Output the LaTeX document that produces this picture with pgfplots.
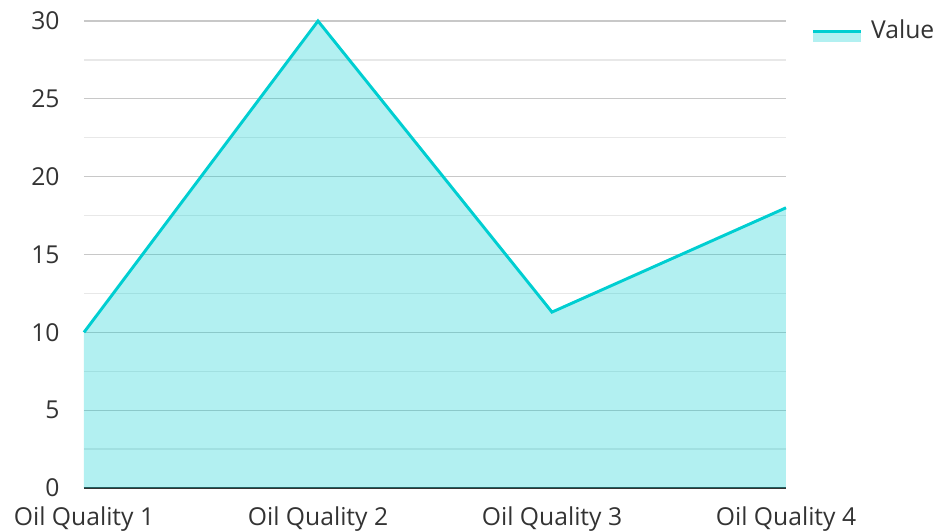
\documentclass[border=0pt]{standalone}
\usepackage{pgfplots}
\pgfplotsset{compat=1.18}
\usepackage{fontspec}
\setmainfont{Open Sans}
\definecolor{lineC}{RGB}{0,206,209}
\definecolor{majgrid}{RGB}{200,200,200}
\definecolor{mingrid}{RGB}{232,232,232}
\definecolor{txt}{RGB}{51,51,51}
\begin{document}
\begin{tikzpicture}
\fontsize{18.5}{22}\selectfont
\begin{axis}[
  at={(0,0)}, anchor=south west,
  scale only axis,
  width=526.5pt, height=350.25pt,
  xmin=0, xmax=3, ymin=0, ymax=30,
  xtick={0,1,2,3},
  xticklabels={Oil Quality 1,Oil Quality 2,Oil Quality 3,Oil Quality 4},
  ytick={0,5,10,15,20,25,30},
  minor ytick={2.5,7.5,12.5,17.5,22.5,27.5},
  ymajorgrids, yminorgrids,
  major grid style={majgrid, line width=0.9pt},
  minor grid style={mingrid, line width=0.9pt},
  major tick length=0pt, minor tick length=0pt,
  axis x line*=bottom, axis y line*=left,
  x axis line style={txt, line width=1.5pt, -},
  y axis line style={draw=none},
  tick label style={font=\fontsize{18.5}{22}\selectfont, text=txt},
  /pgf/number format/assume math mode=true,
  yticklabel style={xshift=-12pt},
  xticklabel style={yshift=-8pt},
  clip=false,
  legend style={at={(1.036,1.008)}, anchor=north west, draw=none, fill=none,
    font=\fontsize{18.5}{22}\selectfont, text=txt, inner sep=0pt},
  legend image code/.code={
    \path[draw=none, fill=lineC, fill opacity=0.3] (0pt,-8pt) rectangle (36pt,0pt);
    \path[draw=lineC, line width=2.2pt] (0pt,0pt) -- (36pt,0pt);
  },
]
\addplot[draw=none, fill=lineC, fill opacity=0.3, forget plot]
  coordinates {(0,10) (1,30) (2,11.3) (3,18)} \closedcycle;
\addplot[lineC, line width=2.2pt]
  coordinates {(0,10) (1,30) (2,11.3) (3,18)};
\addlegendentry{\hspace{4.5pt}Value}
\end{axis}
\pgfresetboundingbox
\path (-63pt,-32.25pt) rectangle (639pt,366pt);
\end{tikzpicture}
\end{document}
